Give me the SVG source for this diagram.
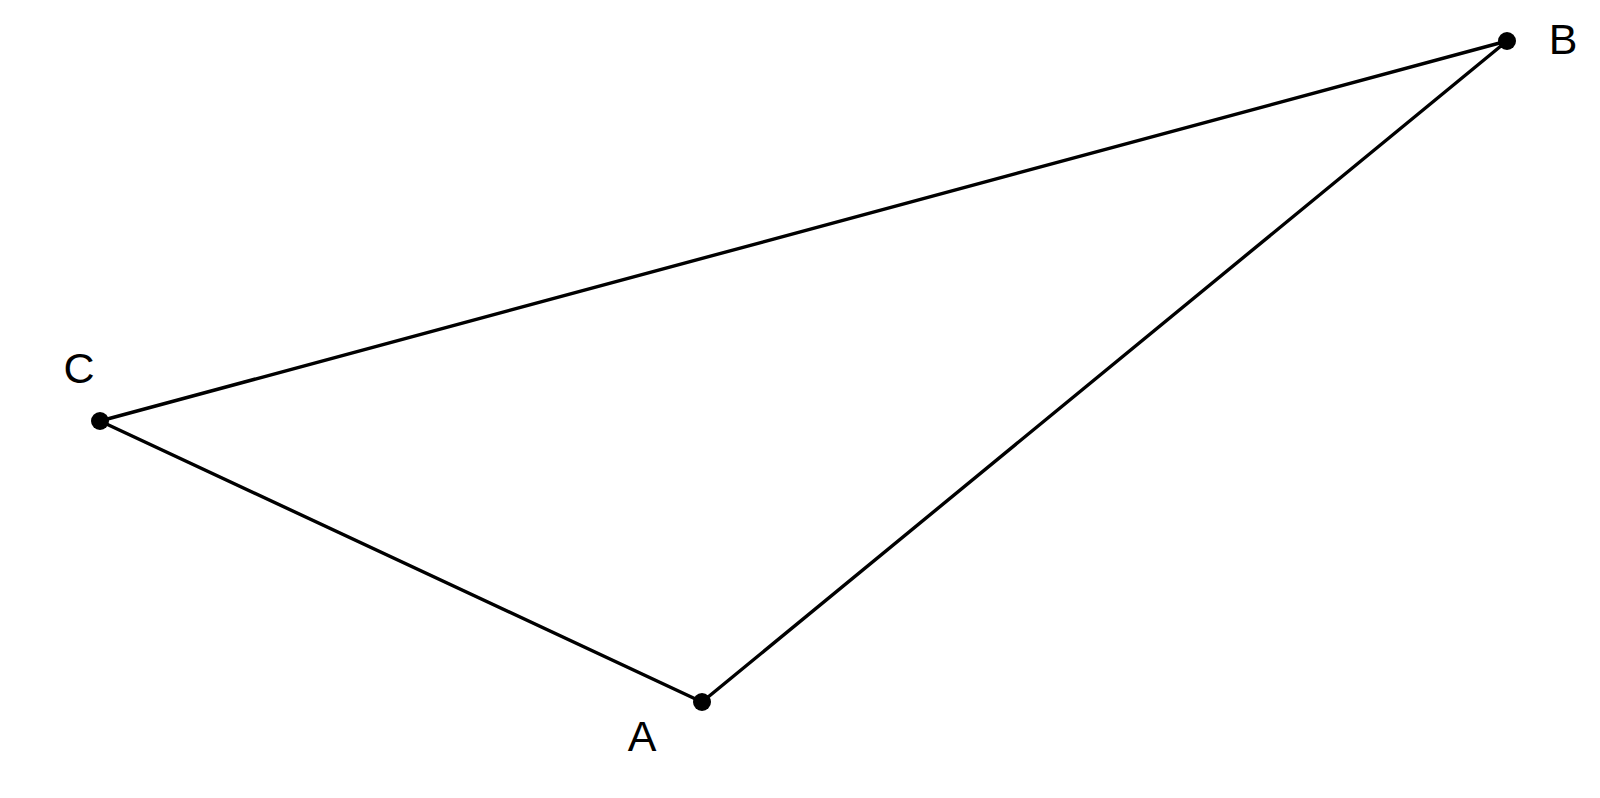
<svg xmlns="http://www.w3.org/2000/svg" width="1600" height="798" viewBox="0 0 1600 798">
<style>
.edge{stroke:#000;stroke-width:3.4;fill:none;stroke-linecap:round}
.pt{fill:#000}
.lbl{font-family:"Liberation Sans",Arial,sans-serif;font-size:43px;fill:#000;text-anchor:middle}
</style>
<rect width="1600" height="798" fill="#fff"/>
<g id="connectors">
<line class="edge" x1="702" y1="702" x2="1507" y2="41"/>
<line class="edge" x1="1507" y1="41" x2="100" y2="421"/>
<line class="edge" x1="100" y1="421" x2="702" y2="702"/>
</g>
<g id="node-A"><circle class="pt" cx="702" cy="702" r="9"/><text class="lbl" x="642" y="751">A</text></g>
<g id="node-B"><circle class="pt" cx="1507" cy="41" r="9"/><text class="lbl" x="1563" y="54">B</text></g>
<g id="node-C"><circle class="pt" cx="100" cy="421" r="9"/><text class="lbl" x="79" y="383">C</text></g>
</svg>
